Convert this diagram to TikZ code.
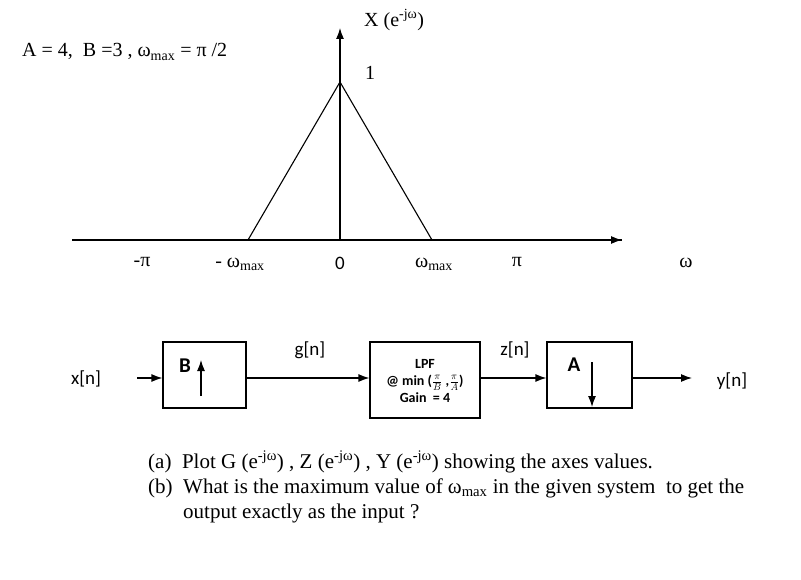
\documentclass[tikz,border=0pt]{standalone}
\usepackage{fontspec}
\setmainfont{Liberation Serif}
\newfontfamily\calfont{Carlito}
\usetikzlibrary{arrows.meta}
\newcommand{\wm}{ω\textsubscript{max}}
\newcommand{\ejw}{(e\textsuperscript{-jω})}
\begin{document}
\begin{tikzpicture}[x=1pt,y=-1pt,
  blk/.style={draw,line width=1.2pt,inner sep=0pt},
  sig/.style={line width=1.2pt,-{Latex[length=11pt,width=8pt]}},
  lbl/.style={font=\calfont\fontsize{19}{22}\selectfont},
  ser/.style={font=\fontsize{20}{24}\selectfont}]
\useasboundingbox (0,0) rectangle (801,580);
% spectrum
\node[ser,anchor=west,inner sep=0pt] (params) at (22,52) {A = 4,\ \ B =3 , \wm{} = π /2};
\coordinate (yb) at (340,240);
\coordinate (yt) at (340,28);
\coordinate (xl) at (72,240);
\coordinate (xr) at (622,240);
\draw[line width=1.3pt] (xl) -- (xr);
\draw[sig] (340,240) -- (xr);
\draw[sig] (yb) -- (yt);
\coordinate (pk) at (340,82);
\coordinate (lb) at (248,240);
\coordinate (rb) at (432,240);
\draw[line width=1.1pt] (lb) -- (pk) -- (rb);
\node[ser,anchor=west,inner sep=0pt] (xlab) at (364,20) {X \ejw};
\node[ser] (one) at (370,73) {1};
\node[ser] (w) at (686,263) {ω};
\node[ser] (mpi) at (142,262) {-π};
\node[ser] (mwm) at (240,264) {- \wm};
\node[lbl] (zero) at (340,263) {0};
\node[ser] (wmx) at (434,264) {\wm};
\node[ser] (ppi) at (517,262) {π};
% block diagram
\node[blk,minimum width=83pt,minimum height=66pt] (B) at (204.5,375) {};
\node[font=\calfont\fontsize{21}{22}\selectfont] (Bt) at (185,366) {\textbf{B}};
\draw[sig] (201,396) -- (201,360);
\node[blk,minimum width=110pt,minimum height=76pt] (L) at (425,380) {};
\node[font=\calfont\fontsize{14}{17}\selectfont,align=center] (Lt) at (425,381) {\textbf{LPF}\\\textbf{@ min (}$\frac{\pi}{B}$\textbf{ ,}$\frac{\pi}{A}$\textbf{)}\\\textbf{Gain\ \ = 4}};
\node[blk,minimum width=85pt,minimum height=66pt] (A) at (589.5,375) {};
\node[font=\calfont\fontsize{21}{22}\selectfont] (At) at (574,365) {\textbf{A}};
\draw[sig] (592,362) -- (592,407);
\node[lbl] (x) at (86,379) {x[n]};
\node[lbl] (y) at (732,381) {y[n]};
\node[lbl] (g) at (310,350) {g[n]};
\node[lbl] (z) at (515,350) {z[n]};
\coordinate (xs) at (137,378);
\coordinate (ye) at (692,378);
\draw[sig] (xs) -- (B.west |- xs);
\draw[sig] (B.east |- xs) -- (L.west |- xs);
\draw[sig] (L.east |- xs) -- (A.west |- xs);
\draw[sig] (A.east |- xs) -- (ye);
% questions
\node[font=\fontsize{21}{25}\selectfont,anchor=north west,align=left,inner sep=0pt] (q) at (148,451) {(a)\ \ Plot G \ejw\ , Z \ejw\ , Y \ejw\ showing the axes values.\\
(b)\ \ What is the maximum value of \wm{} in the given system\ \ to get the\\
\hphantom{(b)\ \ }output exactly as the input ?};
\end{tikzpicture}
\end{document}
